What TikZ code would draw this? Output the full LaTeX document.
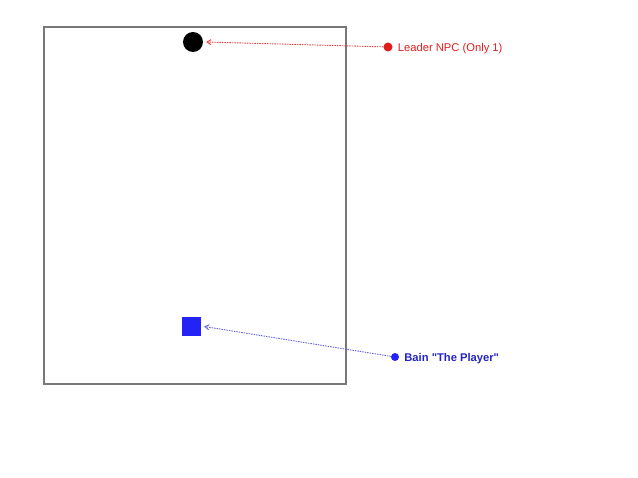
\documentclass[tikz,border=0pt]{standalone}
\usepackage{fontspec}
\setmainfont{Liberation Sans}
\usetikzlibrary{arrows.meta, positioning}
\definecolor{leaderred}{RGB}{225, 30, 30}
\definecolor{playerblue}{RGB}{35, 35, 245}
\definecolor{labelblue}{RGB}{35, 35, 200}
\definecolor{framegray}{RGB}{120, 120, 120}

\begin{document}
\begin{tikzpicture}[x=1pt, y=-1pt,
    marker/.style={circle, inner sep=0pt, minimum size=9pt},
    pointer/.style={dash pattern=on 1.5pt off 1pt, line width=0.9pt, -{Straight Barb[length=4pt, width=5pt]}},
    callout/.style={anchor=west, font=\fontsize{11.2}{13}\selectfont, inner sep=0pt, yshift=-1.5pt}
]
\useasboundingbox (0,0) rectangle (638,478);

% Play area
\draw[framegray, line width=2pt] (44,27) rectangle (346,384);

% Leader NPC
\node[circle, fill=black, minimum size=20pt, inner sep=0pt] (leader) at (193,42) {};
\node[marker, fill=leaderred] (leaderdot) at (388,47) {};
\node[callout, text=leaderred, right=5pt of leaderdot] (leaderlabel) {Leader NPC (Only 1)};

% Player
\node[rectangle, fill=playerblue, minimum size=19pt, inner sep=0pt] (player) at (191.5,326.5) {};
\node[marker, fill=playerblue, minimum size=8pt] (playerdot) at (395,357) {};
\node[callout, text=labelblue, font=\fontsize{11.2}{13}\selectfont\bfseries, right=5pt of playerdot] (playerlabel) {Bain \textquotedbl The Player\textquotedbl};

% Pointers
\draw[pointer, leaderred!85] (leaderdot) -- ([xshift=3pt]leader.east);
\draw[pointer, labelblue!70] (playerdot) -- ([xshift=3pt]player.east);

\end{tikzpicture}
\end{document}
